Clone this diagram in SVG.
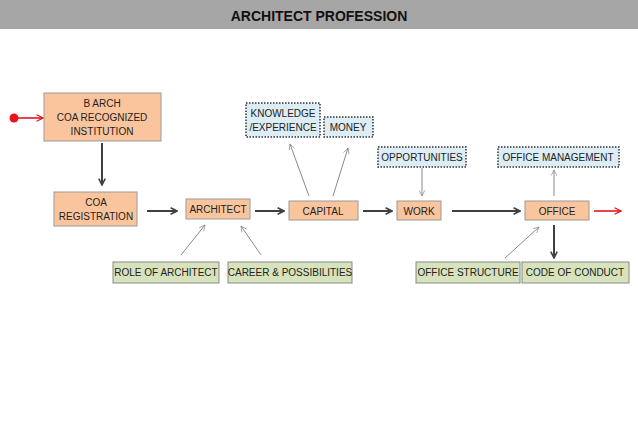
<svg xmlns="http://www.w3.org/2000/svg" width="638" height="442" viewBox="0 0 638 442">
<style>
text{font-family:"Liberation Sans",Arial,sans-serif;font-size:10px;fill:#222;text-anchor:middle}
.o{fill:#fac59d;stroke:#9a9a9a;stroke-width:1}
.g{fill:#d6e3bc;stroke:#8a8a8a;stroke-width:1}
.b{fill:#dcedf5;stroke:#333;stroke-width:1.5;stroke-dasharray:1.5 1.5}
.k{stroke:#404040;stroke-width:2;fill:none}
.t{stroke:#8a8a8a;stroke-width:1;fill:none}
.r{stroke:#e8141b;stroke-width:1.6;fill:none}
</style>
<defs>
<marker id="mk" viewBox="0 0 10 10" refX="9" refY="5" markerWidth="4" markerHeight="4" orient="auto"><path d="M1,1 L9,5 L1,9" fill="none" stroke="#404040" stroke-width="2"/></marker>
<marker id="mt" viewBox="0 0 10 10" refX="9" refY="5" markerWidth="7" markerHeight="7" orient="auto"><path d="M1,1 L9,5 L1,9" fill="none" stroke="#8a8a8a" stroke-width="1"/></marker>
<marker id="mr" viewBox="0 0 10 10" refX="9" refY="5" markerWidth="5" markerHeight="5" orient="auto"><path d="M1,1 L9,5 L1,9" fill="none" stroke="#e8141b" stroke-width="1.6"/></marker>
</defs>
<rect width="638" height="442" fill="#fff"/>
<rect width="638" height="29" fill="#a6a6a6"/>
<text x="319" y="21" style="font-size:14px;font-weight:bold;fill:#111">ARCHITECT PROFESSION</text>
<g id="connectors">
<circle cx="14" cy="118" r="4.5" fill="#e8141b"/>
<path class="r" d="M14,118 H43" marker-end="url(#mr)"/>
<path class="k" d="M102,143 V185" marker-end="url(#mk)"/>
<path class="k" d="M147,211 H177" marker-end="url(#mk)"/>
<path class="k" d="M255,211 H284" marker-end="url(#mk)"/>
<path class="k" d="M363,211 H392" marker-end="url(#mk)"/>
<path class="k" d="M452,211 H520" marker-end="url(#mk)"/>
<path class="r" d="M594,211 H621" marker-end="url(#mr)"/>
<path class="k" d="M554,225 V258" marker-end="url(#mk)"/>
<path class="t" d="M309,196 L290,144" marker-end="url(#mt)"/>
<path class="t" d="M333,196 L348,148" marker-end="url(#mt)"/>
<path class="t" d="M422,168 V196" marker-end="url(#mt)"/>
<path class="t" d="M554,196 V170" marker-end="url(#mt)"/>
<path class="t" d="M181,255 L205,225" marker-end="url(#mt)"/>
<path class="t" d="M261,255 L241,226" marker-end="url(#mt)"/>
<path class="t" d="M505,258 L539,227" marker-end="url(#mt)"/>
</g>
<g id="barch"><rect class="o" x="44" y="93" width="117" height="48"/><text x="102" y="107">B ARCH</text><text x="102" y="121">COA RECOGNIZED</text><text x="102" y="135">INSTITUTION</text></g>
<g id="coa"><rect class="o" x="54" y="192" width="83" height="34"/><text x="96" y="206">COA</text><text x="96" y="220">REGISTRATION</text></g>
<g id="architect"><rect class="o" x="186" y="199" width="64" height="20"/><text x="218" y="213">ARCHITECT</text></g>
<g id="capital"><rect class="o" x="289" y="201" width="69" height="19"/><text x="323" y="215">CAPITAL</text></g>
<g id="work"><rect class="o" x="397" y="201" width="44" height="19"/><text x="419" y="215">WORK</text></g>
<g id="office"><rect class="o" x="525" y="201" width="64" height="19"/><text x="557" y="215">OFFICE</text></g>
<g id="knowledge"><rect class="b" x="246" y="103" width="74" height="34"/><text x="283" y="117">KNOWLEDGE</text><text x="283" y="131">/EXPERIENCE</text></g>
<g id="money"><rect class="b" x="324" y="117" width="49" height="20"/><text x="348" y="131">MONEY</text></g>
<g id="opportunities"><rect class="b" x="378" y="147" width="88" height="20"/><text x="422" y="161">OPPORTUNITIES</text></g>
<g id="officemgmt"><rect class="b" x="498" y="147" width="121" height="20"/><text x="558" y="161">OFFICE MANAGEMENT</text></g>
<g id="role"><rect class="g" x="113" y="262" width="106" height="21"/><text x="166" y="276">ROLE OF ARCHITECT</text></g>
<g id="career"><rect class="g" x="228" y="262" width="124" height="21"/><text x="290" y="276">CAREER &amp; POSSIBILITIES</text></g>
<g id="structure"><rect class="g" x="416" y="262" width="104" height="21"/><text x="468" y="276">OFFICE STRUCTURE</text></g>
<g id="conduct"><rect class="g" x="522" y="262" width="107" height="21"/><text x="575" y="276">CODE OF CONDUCT</text></g>
</svg>
